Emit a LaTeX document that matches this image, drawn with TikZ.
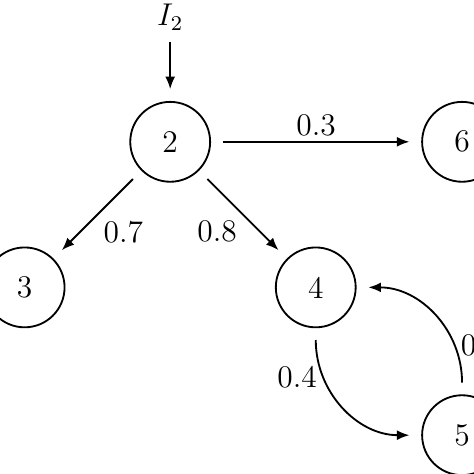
\documentclass[tikz,border=0pt]{standalone}
\usetikzlibrary{positioning}
\usetikzlibrary{arrows.meta}
\tikzset{
    st/.style={
    draw, circle,
    minimum size=1.07cm,
    outer sep=0.17cm
    },
    lbl/.style={
    inner sep=2pt
    }
}

\begin{document}
\begin{tikzpicture}[>={Latex[length=4.8pt,width=3.8pt]}, line width=0.7pt, on grid]
\large
\useasboundingbox (-2.28,1.90) rectangle (4.07,-4.45);

\node [st](n2) at (0,0) {2};
\node [st, below left=1.95cm and 1.95cm of n2](n3) {3};
\node [st, below right=1.95cm and 1.95cm of n2](n4) {4};
\node [st, right=3.91cm of n2](n6) {6};
\node [st, below right=1.98cm and 1.96cm of n4](n5) {5};
\node [above=1.67cm of n2](i2) {$I_2$};

\draw[->] (i2) -- (n2);
\draw[->] (n2) -- node[lbl,above]{0.3} (n6);
\draw[->] (n2) -- node[lbl,below right]{0.7} (n3);
\draw[->] (n2) -- node[lbl,below left]{0.8} (n4);
\draw[->] (n4) to[out=-90,in=180] node[lbl,pos=0.25,left]{0.4} (n5);
\draw[->] (n5) to[out=90,in=0] node[lbl,pos=0.25,right]{0.6} (n4);

\end{tikzpicture}
\end{document}
